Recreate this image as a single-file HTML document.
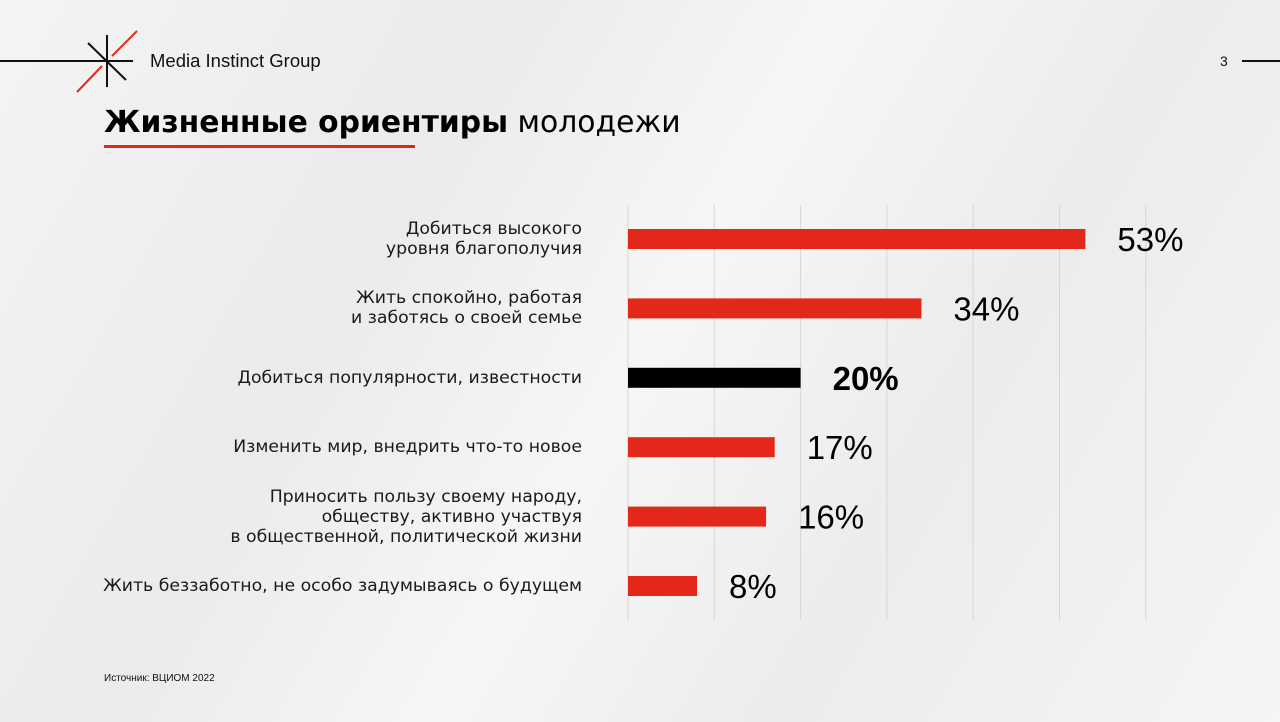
<!DOCTYPE html>
<html><head><meta charset="utf-8"><style>
html,body{margin:0;padding:0}
body{width:1280px;height:722px;overflow:hidden;background:linear-gradient(120deg,#f4f4f4 0%,#ebebeb 30%,#f6f6f6 50%,#ececec 70%,#f5f5f5 100%);font-family:"Liberation Sans","DejaVu Sans",sans-serif;position:relative}
.abs{position:absolute}
.lbl{position:absolute;right:698px;text-align:right;font-family:"DejaVu Sans",sans-serif;font-size:17.3px;line-height:20px;color:#1a1a1a;transform:translateY(-50%);white-space:nowrap}
</style></head><body>
<svg class="abs" style="left:0;top:0" width="1280" height="722">
<g>
<line x1="0" y1="61" x2="133" y2="61" stroke="#111" stroke-width="2"/>
<line x1="107" y1="35" x2="107" y2="87" stroke="#111" stroke-width="2"/>
<line x1="88" y1="43" x2="126" y2="80" stroke="#111" stroke-width="2"/>
<line x1="137" y1="31" x2="112" y2="56" stroke="#e32718" stroke-width="2"/>
<line x1="102" y1="66" x2="77" y2="92" stroke="#e32718" stroke-width="2"/>
</g>
<line x1="1242" y1="61" x2="1280" y2="61" stroke="#111" stroke-width="2"/>
<rect x="104" y="145" width="311" height="3" fill="#e32718"/>
<g id="grid"></g><g id="bars"></g>
</svg>
<div class="abs" style="left:150px;top:50px;font-size:18.5px;color:#111">Media Instinct Group</div>
<div class="abs" style="left:1220px;top:53px;font-size:14px;color:#111">3</div>
<div class="abs" style="left:104px;top:105px;font-family:'DejaVu Sans',sans-serif;font-size:29.8px;color:#000;white-space:nowrap"><b>Жизненные ориентиры</b> молодежи</div>
<div class="abs" style="left:104px;top:673px;font-size:10px;color:#111">Источник: ВЦИОМ 2022</div>
<div id="labels"></div>
<script>
const categories=["Добиться высокого<br>уровня благополучия","Жить спокойно, работая<br>и заботясь о своей семье","Добиться популярности, известности","Изменить мир, внедрить что-то новое","Приносить пользу своему народу,<br>обществу, активно участвуя<br>в общественной, политической жизни","Жить беззаботно, не особо задумываясь о будущем"];
const values=[53,34,20,17,16,8];
const highlight=[false,false,true,false,false,false];
const ticks=[0,10,20,30,40,50,60];
const x=v=>628+v*8.63;
const y=i=>239+i*69.4;
const ns="http://www.w3.org/2000/svg";
const grid=document.getElementById('grid'),bars=document.getElementById('bars'),labels=document.getElementById('labels');
ticks.forEach(t=>{const l=document.createElementNS(ns,'line');
l.setAttribute('x1',x(t));l.setAttribute('x2',x(t));l.setAttribute('y1',205);l.setAttribute('y2',620);
l.setAttribute('stroke','#d6d6d6');l.setAttribute('stroke-width','1');


grid.appendChild(l);});
values.forEach((v,i)=>{const r=document.createElementNS(ns,'rect');
r.setAttribute('x',x(0));r.setAttribute('y',y(i)-10);r.setAttribute('width',x(v)-x(0));r.setAttribute('height',20);
r.setAttribute('fill',highlight[i]?'#000':'#e32718');


bars.appendChild(r);
const t=document.createElementNS(ns,'text');
t.setAttribute('x',x(v)+32);t.setAttribute('y',y(i)+12);t.setAttribute('font-size','33');
t.setAttribute('font-family','"Liberation Sans",sans-serif');
if(highlight[i])t.setAttribute('font-weight','bold');
t.textContent=v+'%';


bars.appendChild(t);
const d=document.createElement('div');d.className='lbl';d.style.top=y(i)+'px';d.innerHTML=categories[i];


labels.appendChild(d);});
</script>
</body></html>
